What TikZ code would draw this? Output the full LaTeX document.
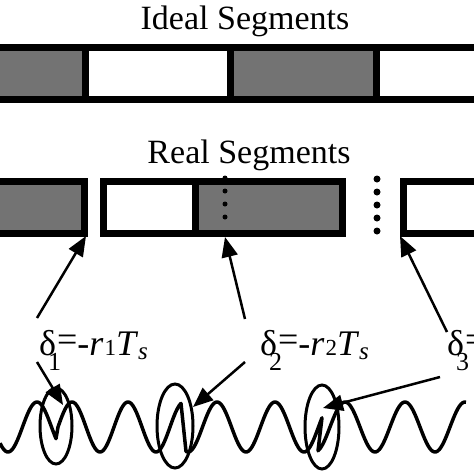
\documentclass[tikz,border=0pt]{standalone}
\usepackage{fontspec}
\setmainfont{Liberation Serif}
\usetikzlibrary{arrows.meta, positioning}

\begin{document}
\begin{tikzpicture}[x=1pt, y=-1pt,
	bar/.style={line width=7pt},
	shade/.style={fill=black!55},
	title/.style={font=\fontsize{34}{36}\selectfont, inner sep=0pt, anchor=base},
	delta/.style={font=\fontsize{36}{40}\selectfont, inner sep=0pt, anchor=base west},
	arrow/.style={-{Triangle[length=20pt, width=16pt]}, line width=2.5pt},
	wave/.style={line width=3.5pt, line join=round},
	ring/.style={line width=3pt},
	dots/.style={line width=#1, line cap=round, dash pattern=on 0pt off 13pt}]
	
	\path[use as bounding box, clip] (0,0) rectangle (474,474);
	
	% ideal segments
	\node[title] (ideal) at (245,29) {Ideal Segments};
	\fill[shade] (-10,47) rectangle (85,100);
	\fill[shade] (230,47) rectangle (376,100);
	\draw[bar] (-10,47.5) rectangle (490,99.5);
	\foreach \x in {85,230,376}
		\draw[bar] (\x,47.5) -- (\x,99.5);
	
	% real segments
	\node[title] (real) at (249,163) {Real Segments};
	\fill[shade] (-10,181) rectangle (84,233);
	\draw[bar] (-10,181.5) -- (84,181.5) -- (84,233) -- (-10,233);
	\fill[shade] (195.5,181) rectangle (342.5,233);
	\draw[bar] (103.5,181.5) rectangle (342.5,233);
	\draw[bar] (195.5,181.5) -- (195.5,233);
	\draw[bar] (490,181.5) -- (403.5,181.5) -- (403.5,233) -- (490,233);
	\draw[dots=5pt] (225,178) -- (225,228.5);
	\draw[dots=7pt] (377,179) -- (377,232.5);
	
	% offsets
	\node[delta] (d1) at (39,355) {δ\kern-8pt\raisebox{-15pt}{\fontsize{26}{26}\selectfont 1}\kern-4pt\raisebox{4pt}{=}-\textit{r}\kern1pt{\fontsize{23}{23}\selectfont 1}\textit{T}\raisebox{-4pt}{\fontsize{25}{25}\selectfont\textit{s}}};
	\node[delta] (d2) at (260,355) {δ\kern-8pt\raisebox{-15pt}{\fontsize{26}{26}\selectfont 2}\kern-4pt\raisebox{4pt}{=}-\textit{r}\kern1pt{\fontsize{23}{23}\selectfont 2}\textit{T}\raisebox{-4pt}{\fontsize{25}{25}\selectfont\textit{s}}};
	\node[delta] (d3) at (447,355) {δ\kern-8pt\raisebox{-15pt}{\fontsize{26}{26}\selectfont 3}\kern-4pt\raisebox{4pt}{=}-\textit{r}\kern1pt{\fontsize{23}{23}\selectfont 3}\textit{T}\raisebox{-4pt}{\fontsize{25}{25}\selectfont\textit{s}}};
	
	\coordinate (up1) at (37,318);
	\coordinate (up2) at (245,319);
	\coordinate (up3) at (447,332);
	\coordinate (edge1) at (86,236);
	\coordinate (edge2) at (225,237);
	\coordinate (edge3) at (400,236);
	\draw[arrow] (up1) -- (edge1);
	\draw[arrow] (up2) -- (edge2);
	\draw[arrow] (up3) -- (edge3);
	
	% signal with jumps
	\draw[wave] plot[domain=0:56, samples=40] (\x,{427-25*cos((\x-37)/58*360)})
		-- plot[domain=58:181, samples=90] (\x,{427-25*cos((\x-72)/56*360)})
		-- plot[domain=186:322, samples=90] (\x,{427-25*cos((\x-217)/58*360)})
		-- plot[domain=318:466, samples=90] (\x,{427-25*cos((\x-345)/60*360)});
	
	\draw[ring] (56,426) ellipse [x radius=16, y radius=38];
	\draw[ring] (175,426) ellipse [x radius=18, y radius=42];
	\draw[ring] (322,427) ellipse [x radius=17, y radius=42];
	
	\coordinate (lo1) at (37,362);
	\coordinate (lo2) at (245,362);
	\coordinate (lo3) at (440,377);
	\coordinate (jump1) at (63,405);
	\coordinate (jump2) at (193,407);
	\coordinate (jump3) at (323,408);
	\draw[arrow] (lo1) -- (jump1);
	\draw[arrow] (lo2) -- (jump2);
	\draw[arrow] (lo3) -- (jump3);
\end{tikzpicture}
\end{document}
